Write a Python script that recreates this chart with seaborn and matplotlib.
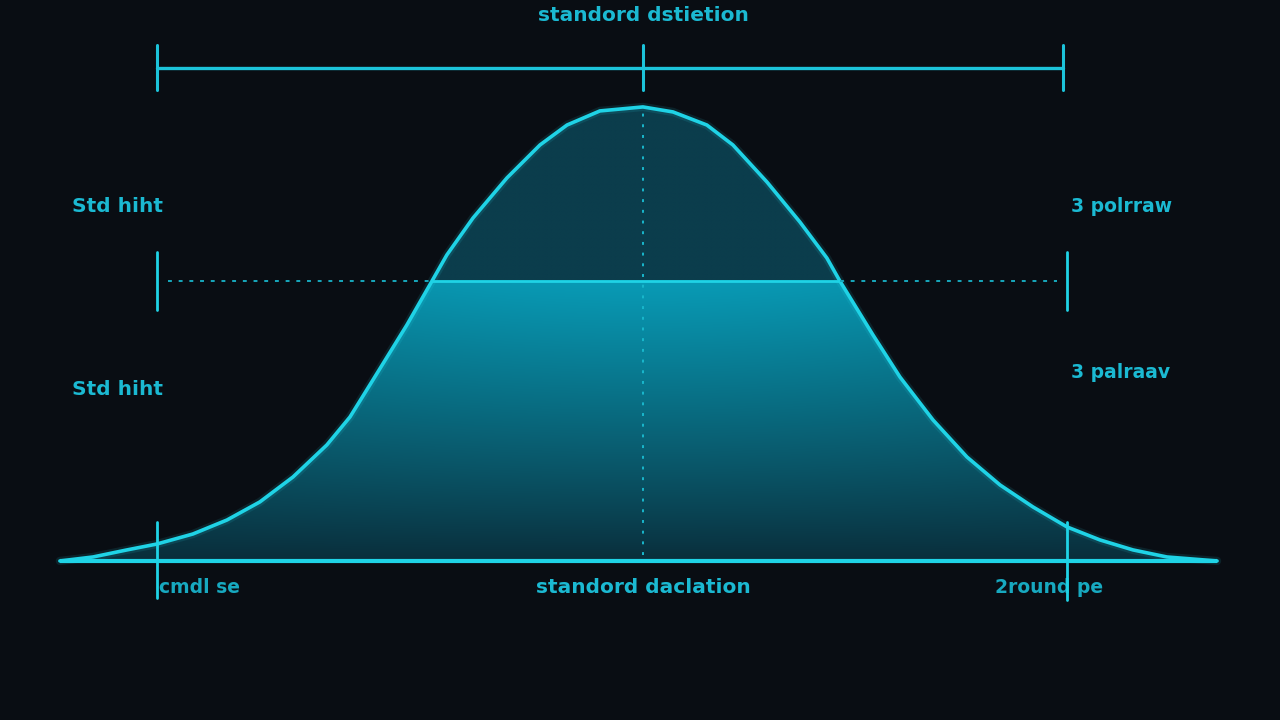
import numpy as np
import pandas as pd
import matplotlib
matplotlib.use("Agg")
import matplotlib.pyplot as plt
import seaborn as sns

# ---- data (x in standard deviations, y = density) ----
curve_x = [-2.872, -2.709, -2.542, -2.394, -2.217, -2.049, -1.887, -1.724, -1.557,
           -1.443, -1.330, -1.163, -1.039, -0.966, -0.837, -0.670, -0.507, -0.374,
           -0.212, 0.000, 0.148, 0.315, 0.443, 0.611, 0.773, 0.906, 0.970, 1.133,
           1.266, 1.429, 1.596, 1.759, 1.921, 2.089, 2.251, 2.414, 2.581, 2.828]
curve_y = [0.0000, 0.0035, 0.0097, 0.0149, 0.0237, 0.0360, 0.0519, 0.0738, 0.1020,
           0.1266, 0.1591, 0.2074, 0.2461, 0.2690, 0.3015, 0.3367, 0.3657, 0.3832,
           0.3956, 0.3991, 0.3947, 0.3832, 0.3657, 0.3331, 0.2980, 0.2663, 0.2461,
           0.1987, 0.1617, 0.1239, 0.0914, 0.0668, 0.0475, 0.0299, 0.0185, 0.0097,
           0.0035, 0.0000]
half_level = 0.2461
half_left_idx = 12
half_right_idx = 26
mean_x = 0.0
left_mark = -2.394
right_mark = 2.089
bracket_right = 2.069

title_text = "standord dstietion"
bottom_center_text = "standord daclation"
bottom_left_text = "cmdl se"
bottom_right_text = "2round pe"
left_labels = ["Std hiht", "Std hiht"]
right_labels = ["3 polrraw", "3 palraav"]

# ---- style ----
BG = "#090d13"
CYAN = "#1fd3e6"
TEXT = "#1bb9d2"
sns.set_theme(style="dark", rc={"axes.facecolor": BG, "figure.facecolor": BG})
plt.rcParams["font.family"] = ["DejaVu Sans"]

XL = (-3.167, 3.138)
YL = (-0.1398, 0.4931)

fig = plt.figure(figsize=(12.8, 7.2), dpi=100)
ax = fig.add_axes([0, 0, 1, 1])
ax.set_facecolor(BG)
ax.set_xlim(*XL)
ax.set_ylim(*YL)
ax.axis("off")

df = pd.DataFrame({"x": curve_x, "y": curve_y})

# gradient fill clipped to the area under the curve
poly = ax.fill_between(df["x"], 0, df["y"], color="none", lw=0)
H, W = 400, 600
ys = np.linspace(YL[1], YL[0], H)
xs = np.linspace(XL[0], XL[1], W)
img = np.zeros((H, W, 3))
top_col = np.array([11, 61, 76]) / 255
bright = np.array([8, 155, 182]) / 255
dark = np.array([10, 45, 58]) / 255
side = np.clip(1 - 0.25 * (np.abs(xs) / 2.5) ** 2, 0.6, 1)
for i, yv in enumerate(ys):
    if yv >= half_level:
        img[i, :, :] = top_col
    else:
        t = np.clip(yv / half_level, 0, 1) ** 0.9
        c = dark + (bright - dark) * t
        img[i, :, :] = c[None, :] * side[:, None] + dark[None, :] * (1 - side[:, None])
im = ax.imshow(img, extent=(XL[0], XL[1], YL[0], YL[1]), aspect="auto", zorder=1)
im.set_clip_path(poly.get_paths()[0], transform=ax.transData)

# glow + curve
sns.lineplot(data=df, x="x", y="y", ax=ax, color="#2fe6f5", lw=6, alpha=0.10, zorder=3,
             sort=False, solid_joinstyle="round")
sns.lineplot(data=df, x="x", y="y", ax=ax, color=CYAN, lw=2.6, zorder=4, sort=False,
             solid_joinstyle="round")

# baseline
ax.plot([curve_x[0], curve_x[-1]], [0, 0], color=CYAN, lw=3, zorder=5, solid_capstyle="butt")

# half-height line: solid inside, dotted outside
ax.plot([curve_x[half_left_idx], curve_x[half_right_idx]], [half_level, half_level],
        color=CYAN, lw=2, zorder=4)
ax.plot([-2.340, curve_x[half_left_idx]], [half_level, half_level], color="#17a9bd", lw=1.4,
        ls=(0, (2, 3.5)), zorder=4)
ax.plot([curve_x[half_right_idx], 2.039], [half_level, half_level], color="#17a9bd", lw=1.4,
        ls=(0, (2, 3.5)), zorder=4)
for xm in (left_mark, right_mark):
    ax.plot([xm, xm], [0.2206, 0.2716], color=CYAN, lw=2, zorder=4)

# mean dotted line
ax.plot([mean_x, mean_x], [0.0053, 0.3947], color="#19b7cc", lw=1.4, ls=(0, (1.5, 4)), zorder=4)

# lower markers
ax.plot([left_mark, left_mark], [-0.0325, 0.0343], color=CYAN, lw=2, zorder=5)
ax.plot([right_mark, right_mark], [-0.0345, 0.0343], color=CYAN, lw=2, zorder=5)

# top bracket
ax.plot([left_mark, bracket_right], [0.4333, 0.4333], color="#1cc3da", lw=2.4, zorder=4)
for xm in (left_mark, mean_x, bracket_right):
    ax.plot([xm, xm], [0.4140, 0.4536], color="#1cc3da", lw=2.2, zorder=4)

# texts
ax.text(mean_x, 0.4799, title_text, color=TEXT, fontsize=14.5, fontweight="bold",
        ha="center", va="center")
ax.text(mean_x, -0.0237, bottom_center_text, color=TEXT, fontsize=14.5, fontweight="bold",
        ha="center", va="center")
ax.text(-2.386, -0.0237, bottom_left_text, color="#17a9c0", fontsize=13.5, fontweight="bold",
        ha="left", va="center")
ax.text(2.0, -0.0237, bottom_right_text, color="#17a9c0", fontsize=13.5, fontweight="bold",
        ha="center", va="center")
for lbl, yv in zip(left_labels, [0.3120, 0.1503]):
    ax.text(-2.813, yv, lbl, color=TEXT, fontsize=14.5, fontweight="bold", ha="left", va="center")
for lbl, yv in zip(right_labels, [0.3120, 0.1661]):
    ax.text(2.108, yv, lbl, color=TEXT, fontsize=13.5, fontweight="bold", ha="left", va="center")

fig.savefig("out.png", dpi=100, facecolor=BG)
